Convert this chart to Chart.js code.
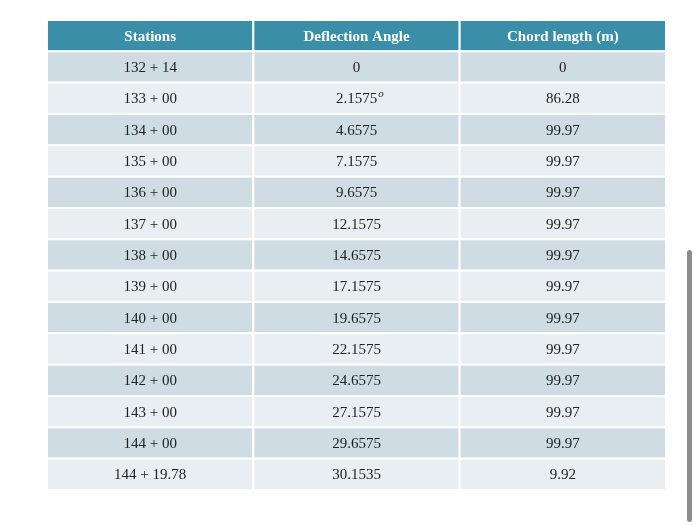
<!DOCTYPE html>
<html><head><meta charset="utf-8">
<script src="https://cdn.jsdelivr.net/npm/chart.js@4"></script>
<style>
html,body{margin:0;padding:0;background:#fff;}
#wrap{position:relative;width:700px;height:525px;}
#bar{position:absolute;left:687px;top:250px;width:5px;height:272px;background:#8c8c8c;border-radius:3px;}
</style></head>
<body>
<div id="wrap"><canvas id="c" width="700" height="525"></canvas><div id="bar"></div></div>
<script>
// ---- 데이터 ----
const headers = ['Stations', 'Deflection Angle', 'Chord length (m)'];
const stations = ['132 + 14','133 + 00','134 + 00','135 + 00','136 + 00','137 + 00','138 + 00','139 + 00','140 + 00','141 + 00','142 + 00','143 + 00','144 + 00','144 + 19.78'];
const angles = ['0','2.1575','4.6575','7.1575','9.6575','12.1575','14.6575','17.1575','19.6575','22.1575','24.6575','27.1575','29.6575','30.1535'];
const chords = ['0','86.28','99.97','99.97','99.97','99.97','99.97','99.97','99.97','99.97','99.97','99.97','99.97','9.92'];

const cols = [stations, angles, chords];
const nRows = stations.length + 1;

// ---- 표 그리기 플러그인 ----
const tablePlugin = {
  id: 'table',
  beforeDraw(chart){
    const {ctx, scales:{x, y}} = chart;
    ctx.save();
    ctx.textAlign = 'center';
    ctx.textBaseline = 'middle';
    for (let r = 0; r < nRows; r++){
      const y0 = y.getPixelForValue(r), y1 = y.getPixelForValue(r+1);
      for (let c = 0; c < 3; c++){
        const x0 = x.getPixelForValue(c), x1 = x.getPixelForValue(c+1);
        ctx.fillStyle = r === 0 ? '#3a8ea7' : (r % 2 ? '#cfdce4' : '#e8eef2');
        ctx.fillRect(x0, y0, x1-x0, y1-y0);
        ctx.strokeStyle = '#fff'; ctx.lineWidth = 2;
        ctx.strokeRect(x0, y0, x1-x0, y1-y0);
        const cx = (x0+x1)/2, cy = (y0+y1)/2 + 1;
        if (r === 0){
          ctx.fillStyle = '#fff';
          ctx.font = 'bold 15px "Liberation Serif", serif';
          ctx.fillText(headers[c], cx, cy);
        } else {
          ctx.fillStyle = '#222';
          ctx.font = '15px "Liberation Serif", serif';
          const t = cols[c][r-1];
          ctx.fillText(t, cx, cy);
          if (c === 1 && r === 2){
            const w = ctx.measureText(t).width;
            ctx.font = 'italic 11px "Liberation Serif", serif';
            ctx.textAlign = 'left';
            ctx.fillText('o', cx + w/2 + 1, cy - 5);
            ctx.textAlign = 'center';
          }
        }
      }
    }
    ctx.restore();
  }
};

new Chart(document.getElementById('c'), {
  type: 'scatter',
  data: { datasets: [{ data: [] }] },
  options: {
    responsive: false,
    animation: false,
    layout: { padding: { left: 47, right: 34, top: 20, bottom: 35 } },
    scales: {
      x: { type: 'linear', min: 0, max: 3, display: false },
      y: { type: 'linear', min: 0, max: nRows, reverse: true, display: false }
    },
    plugins: { legend: { display: false }, tooltip: { enabled: false } }
  },
  plugins: [tablePlugin]
});
</script>
</body></html>
